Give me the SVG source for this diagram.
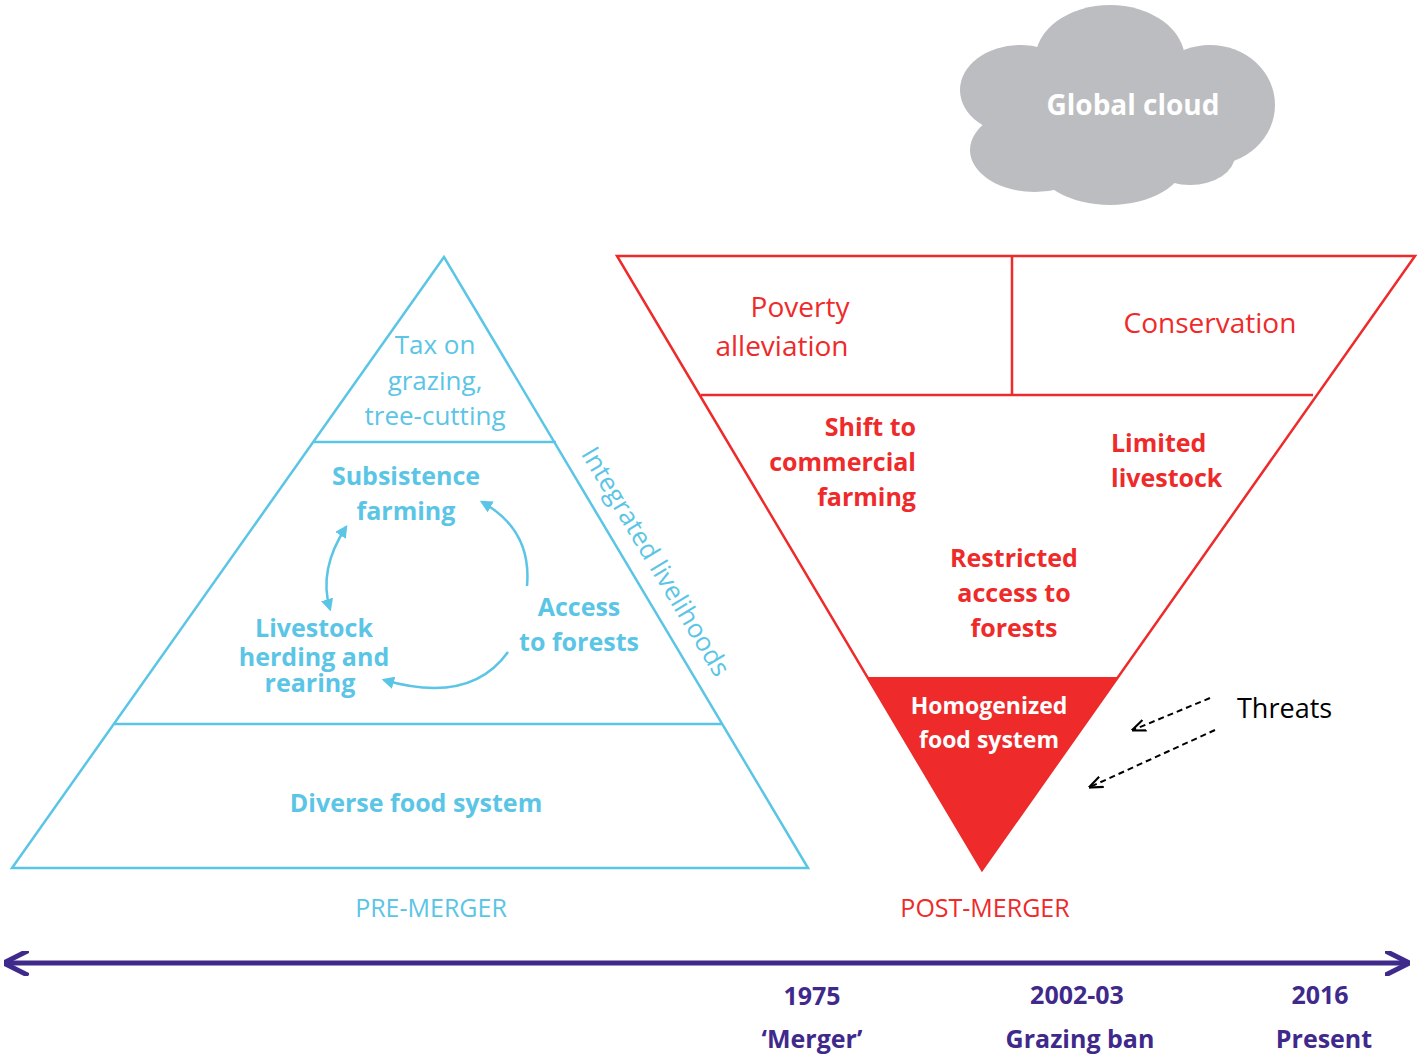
<svg xmlns="http://www.w3.org/2000/svg" width="1418" height="1058" viewBox="0 0 1418 1058">
<defs>
<style>
.c{fill:none;stroke:#5bc5e6;stroke-width:2.5}
.r{fill:none;stroke:#ee2a2a;stroke-width:2.5}
text{font-family:"Open Sans","Noto Sans",sans-serif}
.ct{fill:#5bc5e6;font-size:26px}
.cb{fill:#5bc5e6;font-size:25px;font-weight:bold}
.rt{fill:#ee2a2a;font-size:28px}
.rb{fill:#ee2a2a;font-size:25px;font-weight:bold}
.pb{fill:#3f2a8c;font-size:25px;font-weight:bold}
.th{stroke:#000;stroke-width:2;stroke-dasharray:6,4;fill:none}
</style>
<marker id="ac" viewBox="0 0 10 10" refX="8" refY="5" markerWidth="5" markerHeight="5" orient="auto-start-reverse"><path d="M0,0L10,5L0,10z" fill="#5bc5e6"/></marker>
<marker id="ap" viewBox="0 0 10 10" refX="9" refY="5" markerWidth="5" markerHeight="5" orient="auto-start-reverse"><path d="M0,0L10,5L0,10" fill="none" stroke="#3f2a8c" stroke-width="2"/></marker>
<marker id="ak" viewBox="0 0 10 10" refX="9" refY="5" markerWidth="7" markerHeight="7" orient="auto"><path d="M0,1L10,5L0,9" fill="none" stroke="#000" stroke-width="1.5"/></marker>
</defs>
<g id="cloud" fill="#bcbdc0">
<ellipse cx="1110" cy="60" rx="75" ry="55"/><ellipse cx="1020" cy="90" rx="60" ry="45"/><ellipse cx="1210" cy="105" rx="65" ry="60"/>
<ellipse cx="1035" cy="150" rx="65" ry="42"/><ellipse cx="1110" cy="160" rx="75" ry="45"/><ellipse cx="1190" cy="155" rx="45" ry="30"/><rect x="1000" y="80" width="220" height="90"/>
<text x="1133" y="115" font-size="28" font-weight="bold" fill="#fff" text-anchor="middle">Global cloud</text>
</g>
<g id="pre">
<path class="c" d="M444,257L12,868H808Z M313,442H556 M114,724H723"/>
<text class="ct" text-anchor="middle"><tspan x="435" y="354">Tax on</tspan><tspan x="435" y="390">grazing,</tspan><tspan x="435" y="425">tree-cutting</tspan></text>
<text class="cb" text-anchor="middle"><tspan x="406" y="485">Subsistence</tspan><tspan x="406" y="520">farming</tspan></text>
<text class="cb" text-anchor="middle"><tspan x="579" y="616">Access</tspan><tspan x="579" y="651">to forests</tspan></text>
<text class="cb" text-anchor="middle" font-size="24"><tspan x="314" y="637">Livestock</tspan><tspan x="314" y="666">herding and</tspan><tspan x="310" y="692">rearing</tspan></text>
<text class="cb" x="416" y="812" text-anchor="middle">Diverse food system</text>
<text class="ct" x="655" y="570" font-size="27" text-anchor="middle" transform="rotate(59 655 562)">Integrated livelihoods</text>
<text x="431" y="917" text-anchor="middle" fill="#5bc5e6" font-size="25">PRE-MERGER</text>
</g>
<g id="post">
<path class="r" d="M617,256H1415L982,870Z M1012,256V395 M701,395H1313"/>
<path d="M867,677H1118L982,870Z" fill="#ee2a2a"/>
<text class="rt" text-anchor="middle"><tspan x="800" y="317">Poverty</tspan><tspan x="782" y="356">alleviation</tspan></text>
<text class="rt" x="1210" y="333" text-anchor="middle">Conservation</text>
<text class="rb" text-anchor="end"><tspan x="916" y="436">Shift to</tspan><tspan x="916" y="471">commercial</tspan><tspan x="916" y="506">farming</tspan></text>
<text class="rb"><tspan x="1111" y="452">Limited</tspan><tspan x="1111" y="487">livestock</tspan></text>
<text class="rb" text-anchor="middle"><tspan x="1014" y="567">Restricted</tspan><tspan x="1014" y="602">access to</tspan><tspan x="1014" y="637">forests</tspan></text>
<text font-size="23" font-weight="bold" fill="#fff" text-anchor="middle"><tspan x="989" y="714">Homogenized</tspan><tspan x="989" y="748">food system</tspan></text>
<text x="985" y="917" text-anchor="middle" fill="#ee2a2a" font-size="25">POST-MERGER</text>
<text x="1237" y="718" font-size="27" fill="#000">Threats</text>
</g>
<g id="timeline">
<text class="pb" text-anchor="middle"><tspan x="812" y="1005">1975</tspan><tspan x="812" y="1048">‘Merger’</tspan></text>
<text class="pb" text-anchor="middle"><tspan x="1077" y="1004">2002-03</tspan><tspan x="1080" y="1048">Grazing ban</tspan></text>
<text class="pb" text-anchor="middle"><tspan x="1320" y="1004">2016</tspan><tspan x="1324" y="1048">Present</tspan></text>
</g>
<g id="connectors">
<path class="c" d="M527,586Q532,530 482,502" marker-end="url(#ac)"/>
<path class="c" d="M508,652Q470,705 384,680" marker-end="url(#ac)"/>
<path class="c" d="M346,527Q318,570 330,609" marker-start="url(#ac)" marker-end="url(#ac)"/>
<path class="th" d="M1210,698L1133,730" marker-end="url(#ak)"/>
<path class="th" d="M1215,730L1090,787" marker-end="url(#ak)"/>
<path d="M6,963H1407" stroke="#3f2a8c" stroke-width="5" fill="none" marker-start="url(#ap)" marker-end="url(#ap)"/>
</g>
</svg>
